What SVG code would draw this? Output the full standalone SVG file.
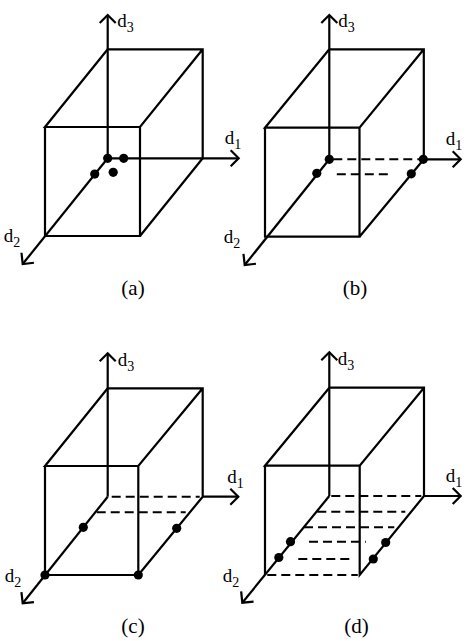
<svg xmlns="http://www.w3.org/2000/svg" width="474" height="641" viewBox="0 0 474 641">
<defs>
<style>
.e{stroke:#000;stroke-width:2.2;fill:none}
.ds{stroke:#000;stroke-width:2;fill:none;stroke-dasharray:9 5}
.ax{stroke:#000;stroke-width:2.2;fill:none;marker-end:url(#arr)}
.dot{fill:#000}
.lb{font-family:"Liberation Serif","Times New Roman",serif;font-size:19px;fill:#000}
.sb{font-size:14px}
.cap{font-family:"Liberation Serif","Times New Roman",serif;font-size:21px;fill:#000;text-anchor:middle}
</style>
<marker id="arr" viewBox="-10 -10 20 20" markerWidth="20" markerHeight="20" refX="0" refY="0" orient="auto" markerUnits="userSpaceOnUse" overflow="visible">
<path d="M-8,-8 L0,0 L-8,8" fill="none" stroke="#000" stroke-width="2.2"/>
</marker>
</defs>
<rect width="474" height="641" fill="#fff"/>

<!-- Panel (a) -->
<g id="panel-a" transform="translate(107.7,158.3)">
  <g id="a-box"><path class="e" d="M0,-109 H95 V0 M0,-109 L-62.7,-31.3 H32.3 L95,-109 M-62.7,-31.3 V77.7 H32.3 V-31.3 M32.3,77.7 L95,0"/></g>
  <g id="a-axes">
    <path class="ax" d="M0,0 V-143.3"/>
    <path class="ax" d="M0,0 H131"/>
    <path class="ax" d="M0,0 L-85,105.7"/>
  </g>
  <g id="a-points">
    <circle class="dot" cx="0" cy="0" r="4.6"/>
    <circle class="dot" cx="16" cy="0" r="4.6"/>
    <circle class="dot" cx="-13" cy="15.8" r="4.6"/>
    <circle class="dot" cx="5.5" cy="14" r="4.6"/>
  </g>
  <g id="a-labels">
    <text class="lb" x="9.5" y="-131">d<tspan class="sb" dy="5">3</tspan></text>
    <text class="lb" x="117" y="-14">d<tspan class="sb" dy="5">1</tspan></text>
    <text class="lb" x="-104" y="84">d<tspan class="sb" dy="5">2</tspan></text>
  </g>
</g>
<text id="cap-a" class="cap" x="133" y="295">(a)</text>

<!-- Panel (b) -->
<g id="panel-b" transform="translate(329.3,159.3)">
  <g id="b-box"><path class="e" d="M0,-110 H94.5 V0 M0,-110 L-64.3,-31.6 H30.2 L94.5,-110 M-64.3,-31.6 V77.4 H30.2 V-31.6 M30.2,77.4 L94.5,0"/></g>
  <g id="b-dashes">
    <path class="ds" d="M4,0 H90"/>
    <path class="ds" d="M7.5,15 H62"/>
  </g>
  <g id="b-axes">
    <path class="ax" d="M0,0 V-144.3"/>
    <path class="ax" d="M94.5,0 H131.4"/>
    <path class="ax" d="M0,0 L-84.6,105.7"/>
  </g>
  <g id="b-points">
    <circle class="dot" cx="0" cy="0" r="4.6"/>
    <circle class="dot" cx="-12.5" cy="14" r="4.6"/>
    <circle class="dot" cx="94" cy="0" r="4.6"/>
    <circle class="dot" cx="82" cy="14.5" r="4.6"/>
  </g>
  <g id="b-labels">
    <text class="lb" x="9" y="-132">d<tspan class="sb" dy="5">3</tspan></text>
    <text class="lb" x="116.5" y="-14">d<tspan class="sb" dy="5">1</tspan></text>
    <text class="lb" x="-105.5" y="84">d<tspan class="sb" dy="5">2</tspan></text>
  </g>
</g>
<text id="cap-b" class="cap" x="355" y="295">(b)</text>

<!-- Panel (c) -->
<g id="panel-c" transform="translate(107.7,496.7)">
  <g id="c-box"><path class="e" d="M0,-108.4 H95 V0 M0,-108.4 L-62.7,-30.7 H30.6 L95,-108.4 M-62.7,-30.7 V78.3 H30.6 V-30.7 M30.6,78.3 L95,0"/></g>
  <g id="c-dashes">
    <path class="ds" d="M4,0 H92"/>
    <path class="ds" d="M-11,15.6 H78"/>
  </g>
  <g id="c-axes">
    <path class="ax" d="M0,0 V-143.4"/>
    <path class="ax" d="M95,0 H130.6"/>
    <path class="ax" d="M0,0 L-85,106.6"/>
  </g>
  <g id="c-points">
    <circle class="dot" cx="-62.7" cy="78.3" r="4.6"/>
    <circle class="dot" cx="30.6" cy="78.3" r="4.6"/>
    <circle class="dot" cx="-24.4" cy="30.6" r="4.6"/>
    <circle class="dot" cx="69" cy="31.6" r="4.6"/>
  </g>
  <g id="c-labels">
    <text class="lb" x="10" y="-131">d<tspan class="sb" dy="5">3</tspan></text>
    <text class="lb" x="119.5" y="-14">d<tspan class="sb" dy="5">1</tspan></text>
    <text class="lb" x="-103" y="85">d<tspan class="sb" dy="5">2</tspan></text>
  </g>
</g>
<text id="cap-c" class="cap" x="133" y="633">(c)</text>

<!-- Panel (d) -->
<g id="panel-d" transform="translate(329.3,496)">
  <g id="d-box"><path class="e" d="M0,-108.3 H94.7 V0 M0,-108.3 L-64.3,-30.3 H30.4 L94.7,-108.3 M-64.3,-30.3 V79 M30.4,-30.3 V79 L94.7,0"/></g>
  <g id="d-dashes">
    <path class="ds" d="M2,0 H92"/>
    <path class="ds" d="M-12,15.7 H76"/>
    <path class="ds" d="M-25.3,31.3 H65"/>
    <path class="ds" d="M-20.3,45.7 H36.5"/>
    <path class="ds" d="M-31,63 H22.5"/>
    <path class="ds" d="M-62,79 H28.5"/>
  </g>
  <g id="d-axes">
    <path class="ax" d="M0,0 V-143.7"/>
    <path class="ax" d="M94.7,0 H131.4"/>
    <path class="ax" d="M0,0 L-87,106.7"/>
  </g>
  <g id="d-points">
    <circle class="dot" cx="-38.8" cy="45.7" r="4.6"/>
    <circle class="dot" cx="-50.5" cy="61.5" r="4.6"/>
    <circle class="dot" cx="56.4" cy="46.5" r="4.6"/>
    <circle class="dot" cx="44" cy="63" r="4.6"/>
  </g>
  <g id="d-labels">
    <text class="lb" x="8.5" y="-131">d<tspan class="sb" dy="5">3</tspan></text>
    <text class="lb" x="116.5" y="-14">d<tspan class="sb" dy="5">1</tspan></text>
    <text class="lb" x="-106.5" y="85.5">d<tspan class="sb" dy="5">2</tspan></text>
  </g>
</g>
<text id="cap-d" class="cap" x="356.5" y="633">(d)</text>
</svg>
